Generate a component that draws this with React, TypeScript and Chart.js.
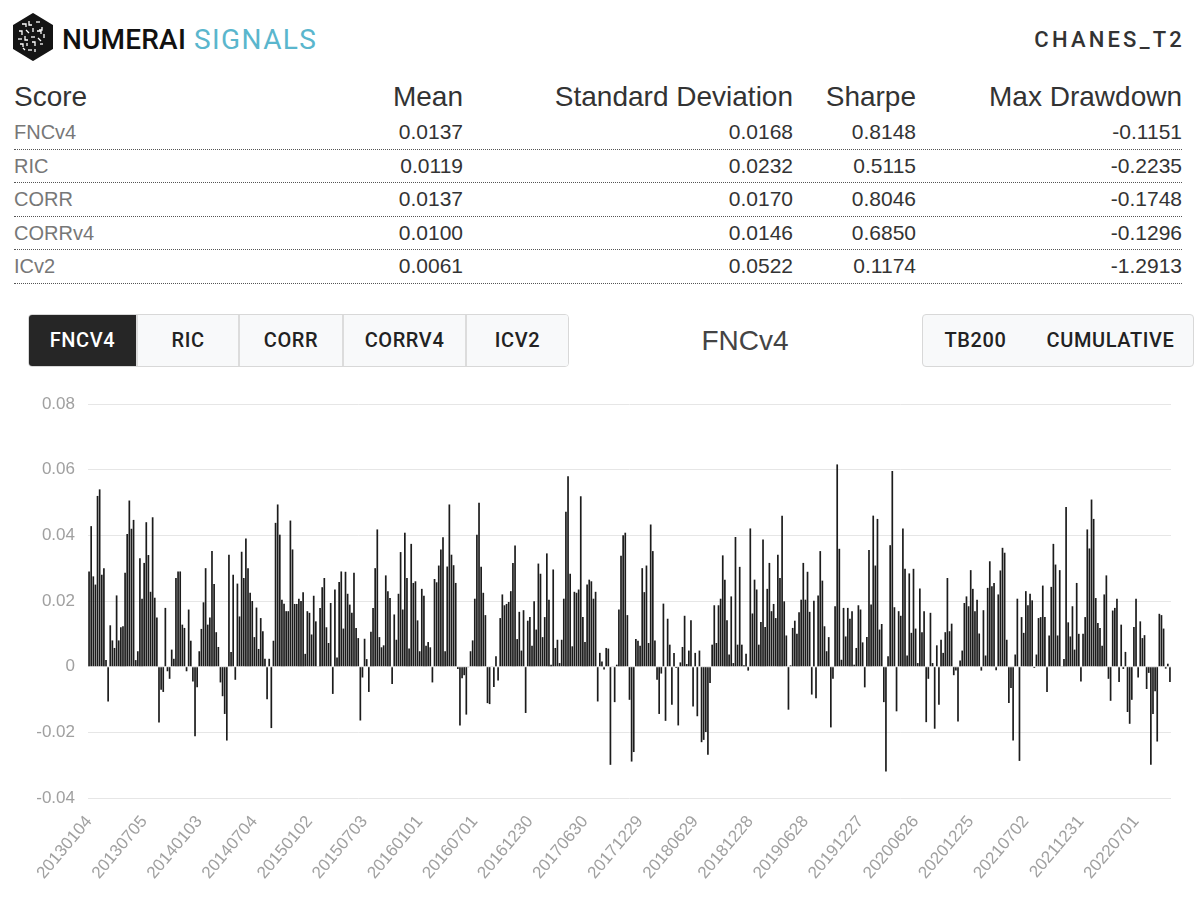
import React, { useEffect, useRef } from 'react';
import { Chart, registerables } from 'chart.js';

Chart.register(...registerables);

// ---------- table data ----------
const SCORE_NAMES = ['FNCv4', 'RIC', 'CORR', 'CORRv4', 'ICv2'];
const MEAN = ['0.0137', '0.0119', '0.0137', '0.0100', '0.0061'];
const STD_DEV = ['0.0168', '0.0232', '0.0170', '0.0146', '0.0522'];
const SHARPE = ['0.8148', '0.5115', '0.8046', '0.6850', '0.1174'];
const MAX_DRAWDOWN = ['-0.1151', '-0.2235', '-0.1748', '-0.1296', '-1.2913'];

const TABS = ['FNCV4', 'RIC', 'CORR', 'CORRV4', 'ICV2'];
const MODES = ['TB200', 'CUMULATIVE'];

// ---------- chart data ----------
const TICK_LABELS = [
  '20130104', '20130705', '20140103', '20140704', '20150102', '20150703', '20160101',
  '20160701', '20161230', '20170630', '20171229', '20180629', '20181228', '20190628',
  '20191227', '20200626', '20201225', '20210702', '20211231', '20220701',
];
const TICK_EVERY = 26;
const Y_TICKS = [-0.04, -0.02, 0, 0.02, 0.04, 0.06, 0.08];

const FNC_2013 = [
  0.029, 0.0428, 0.0275, 0.025, 0.052, 0.054, 0.028, 0.030, 0.002, -0.0106, 0.0126, 0.008,
  0.0057, 0.0217, 0.008, 0.012, 0.0123, 0.0286, 0.0404, 0.0506, 0.042, 0.0447, 0.002, 0.0047,
  0.033, 0.0207, 0.0316, 0.044, 0.034, 0.0228, 0.0455, 0.021, 0.015, -0.017, -0.007, -0.0077,
  0.0179, -0.0014, -0.0037, 0.0052, 0.0024, 0.027, 0.029, 0.029, 0.0128, 0.0118, -0.0014,
  0.0174, 0.0079, -0.0045, -0.0212, -0.0063, 0.0047, 0.0115, 0.0196, 0.030,
];
const FNC_2014 = [
  0.0128, 0.015, 0.0352, 0.0252, 0.0105, 0.006, -0.0048, -0.009, -0.0144, -0.0225, 0.0341,
  0.0045, 0.028, -0.004, 0.0253, 0.0153, 0.035, 0.027, 0.039, 0.030, 0.0225, 0.020, 0.009,
  0.018, 0.0054, 0.0148, 0.0108, 0.0024, -0.0099, 0.0024, -0.0187, 0.0079, 0.0438, 0.0494,
  0.0402, 0.0204, 0.0192, 0.0169, 0.0169, 0.0445, 0.0357, 0.0191, 0.0191, 0.0207, 0.020,
  0.0227, 0.0039, 0.0169, 0.0164, 0.0098, 0.0216, 0.0138, 0.0001, 0.0179, 0.0242, 0.027, 0.012,
];
const FNC_2015 = [
  0.0072, 0.0194, -0.0083, 0.0235, 0.0028, 0.0258, 0.029, 0.0116, 0.0289, 0.0222, 0.0189,
  0.0164, 0.0286, 0.0118, 0.0087, -0.0164, -0.0033, 0.0085, 0.0023, -0.0077, 0.0106, 0.0179,
  0.030, 0.0418, 0.009, 0.0059, 0.0065, 0.0278, 0.023, 0.0209, -0.0053, 0.0159, 0.0082, 0.0222,
  0.0349, 0.0174, 0.0408, 0.027, 0.0055, 0.0374, 0.0255, 0.026, 0.0141, 0.0047, 0.0237, 0.0216,
  0.0064, 0.0075, 0.0059, -0.0048, 0.0267, 0.0257, 0.0308, 0.0357, 0.0394, 0.0047, 0.0305, 0.0494,
];
const FNC_2016 = [
  0.0341, 0.0309, 0.0255, -0.0007, -0.0179, -0.0035, -0.0026, -0.0146, -0.0001, 0.0047, 0.008,
  0.0207, 0.0402, 0.0499, 0.0304, 0.0225, 0.0157, -0.0111, -0.0114, 0, -0.0062, 0.0032, -0.0042,
  0.0148, 0.022, 0.0187, 0.0191, 0.0197, 0.023, 0.0316, 0.0369, 0.0084, 0.0167, 0.0049, 0.0172,
  -0.0141, 0.014, 0.0151, 0.0064, 0.0199, 0.0113, 0.0314, 0.0283, 0.009, 0.0151, 0.0345, 0.0204,
  0.0006, 0.0296, 0.0057, 0.0082, 0.0011, 0.0082, 0.0207, 0.0472, 0.058, 0.0283,
];
const FNC_2017 = [
  0.0062, 0.0228, 0.0225, 0.0235, 0.0519, 0.0151, 0.0075, 0.025, 0.0265, 0.026, 0.0207, 0.0228,
  -0.0106, 0.0042, 0.0016, -0.0009, 0.0057, 0.0055, -0.0299, 0, -0.0108, 0.0006, 0.0174, 0.0338,
  0.04, 0.0408, 0.0157, -0.0101, -0.0289, -0.026, 0.0084, 0.0079, 0.0064, 0.030, 0.0227, 0.0308,
  0.0072, 0.0433, 0.0352, 0.008, -0.004, -0.0144, -0.0021, 0.0192, -0.0165, 0.0146, 0.0067,
  -0.0116, 0.0042, -0.0004, -0.0179, 0.0013, 0.006, 0.0155, 0.0008, 0.0049, 0.0141, -0.0121,
];
const FNC_2018 = [
  0.0042, -0.0151, 0.0049, -0.023, -0.0223, -0.0199, -0.0268, -0.005, 0.0067, 0.0187, 0.0072,
  0.0187, 0.0207, 0.0339, 0.0265, 0.0141, 0.0037, 0.0214, 0.0011, 0.0395, 0.0067, 0.0304, 0.0067,
  0.0004, 0.0039, -0.0012, 0.0421, 0.0162, 0.0265, 0.0235, 0.0067, 0.0136, 0.0387, 0.0121, 0.0237,
  0.0316, 0.0169, 0.0191, 0.0148, 0.0341, 0.027, 0.046, 0.0199, 0.0095, -0.0131, 0.0004, 0.0118,
  0.014, 0.01, 0.0166, 0.0204, 0.0316, 0.0204, 0.0289, 0.0167, -0.0085, 0.0201,
];
const FNC_2019 = [
  -0.0096, 0.0217, 0.0352, 0.0262, 0.0123, 0.0047, 0.009, -0.0185, -0.0037, 0.0184, 0.0616,
  0.0359, 0.0021, 0.0179, 0.0092, 0.0179, 0.0146, 0.0169, 0.0006, 0.0057, 0.0187, 0.0174, 0.0074,
  -0.0063, 0.009, 0.0355, 0.0189, 0.046, 0.0308, 0.045, 0.0113, 0.013, -0.0108, -0.0319, 0.0032,
  0.037, 0.0596, 0.0181, -0.0136, 0.0169, 0.0155, 0.0421, 0.0298, 0.0034, 0.0284, 0.0103, 0.0298,
  0.0116, 0.0011, 0.0238, 0.0105, 0.0169, -0.0169, -0.0037, 0.0164, 0.0011, -0.0189,
];
const FNC_2021 = [
  0.0065, -0.0116, 0.0082, 0.0042, 0.0105, 0.027, 0.0108, 0.0131, -0.0026, -0.0012, -0.0167,
  0.0019, 0.0049, 0.0194, 0.0214, 0.0184, 0.0294, 0.0237, 0.0169, 0.0204, 0.0101, -0.0012, 0.0172,
  0.0034, 0.024, 0.0321, 0.0245, 0.0255, -0.0011, 0.022, 0.0293, 0.0362, 0.0347, 0.0082, -0.0111,
  -0.0065, -0.0225, 0.0037, 0.0207, -0.0287, 0.0151, 0.0103, 0.023, 0.0187, 0.0222, 0.0202,
  -0.0004, 0.0037, 0.0148, 0.0151, 0.0247, 0.0151, -0.0077, 0.0095, 0.0243, 0.0374, 0.0311,
];
const FNC_2022 = [
  0.0095, 0.0294, -0.0002, 0.0023, 0.0486, 0.0135, 0.0092, 0.0184, 0.0052, 0.0255, 0.01, -0.0045,
  0.01, 0.0151, 0.0418, 0.036, 0.0509, 0.045, 0.0209, 0.0133, 0.0118, 0.0064, 0.022, 0.0278,
  -0.0037, -0.0104, 0.0171, 0.0179, 0.0207, -0.0047, 0.0128, -0.0007, 0.0045, -0.0138, -0.0174,
  -0.0101, 0.0121, 0.0207, -0.0033, 0.0138, 0.0087, 0.0096, -0.0068, -0.0019, -0.0299, -0.0144,
  -0.0075, -0.0228, 0.0161, 0.0157, 0.0116, -0.0006, 0.0009, -0.0047,
];

const FNC_VALUES = [
  ...FNC_2013, ...FNC_2014, ...FNC_2015, ...FNC_2016, ...FNC_2017,
  ...FNC_2018, ...FNC_2019, ...FNC_2021, ...FNC_2022,
];

const FONT = '"Liberation Sans", Arial, Helvetica, sans-serif';
const TECH_FONT = 'Roboto, "Liberation Sans", Arial, sans-serif';

const LOGO_MARKS = [
  'M22 24h4v3', 'M29 21v4h3', 'M36 22h4', 'M42 27v3h-3', 'M19 31h3v4', 'M26 30l3 3', 'M33 28v4',
  'M37 31h4v3', 'M44 34v4', 'M18 39h4', 'M25 36v4h3', 'M31 37h4', 'M38 38l3 3', 'M20 44h3v3',
  'M27 43v3', 'M32 42h3v4', 'M40 44h3', 'M28 50h4', 'M35 49v3', 'M23 48l2 2',
];

function Logo() {
  return (
    <svg width={42} height={50} viewBox="12 12 42 50" style={{ position: 'absolute', left: 12, top: 12 }}>
      <polygon
        points="33,14 52,25.5 52,48.5 33,60 14,48.5 14,25.5"
        fill="#141414"
        stroke="#141414"
        strokeWidth={2}
        strokeLinejoin="round"
      />
      {LOGO_MARKS.map((d, i) => (
        <path key={i} d={d} stroke="#fff" strokeWidth={1.3} fill="none" />
      ))}
    </svg>
  );
}

function BarChart() {
  const ref = useRef<HTMLCanvasElement | null>(null);
  useEffect(() => {
    if (!ref.current) return;
    const labels = FNC_VALUES.map((_, i) =>
      i % TICK_EVERY === 0 ? TICK_LABELS[i / TICK_EVERY] ?? '' : ''
    );
    const chart = new Chart(ref.current, {
      type: 'bar',
      data: {
        labels,
        datasets: [
          {
            data: FNC_VALUES,
            backgroundColor: '#1c1c1c',
            barPercentage: 0.8,
            categoryPercentage: 1,
          },
        ],
      },
      options: {
        animation: false,
        responsive: true,
        maintainAspectRatio: false,
        layout: { padding: { left: 0, right: 29, top: 24, bottom: 0 } },
        plugins: { legend: { display: false }, tooltip: { enabled: false } },
        scales: {
          x: {
            grid: { display: false },
            border: { display: false },
            ticks: {
              autoSkip: false,
              minRotation: 50,
              maxRotation: 50,
              color: '#a0a0a0',
              padding: 6,
              font: { size: 17, family: FONT },
            },
            afterFit: (s: any) => {
              s.height = 100;
            },
          },
          y: {
            min: -0.04,
            max: 0.08,
            afterBuildTicks: (s: any) => {
              s.ticks = Y_TICKS.map((v) => ({ value: v }));
            },
            ticks: {
              color: '#a0a0a0',
              padding: 13,
              font: { size: 17, family: FONT },
              callback: (v: any) => String(Number(Number(v).toFixed(2))),
            },
            grid: { color: '#e6e6e6', drawTicks: false, lineWidth: 1 },
            border: { display: false },
            afterFit: (s: any) => {
              s.width = 88;
            },
          },
        },
      },
    });
    return () => chart.destroy();
  }, []);
  return (
    <div style={{ position: 'absolute', left: 0, top: 380, width: 1200, height: 518 }}>
      <canvas ref={ref} />
    </div>
  );
}

const COLS = [
  { title: 'Mean', right: 463, values: MEAN },
  { title: 'Standard Deviation', right: 793, values: STD_DEV },
  { title: 'Sharpe', right: 916, values: SHARPE },
  { title: 'Max Drawdown', right: 1182, values: MAX_DRAWDOWN },
];

const TAB_WIDTHS = [107, 102, 104, 123, 103];

export default function App() {
  return (
    <div
      style={{
        position: 'absolute',
        left: 0,
        top: 0,
        width: 1200,
        height: 898,
        background: '#fff',
        fontFamily: FONT,
        overflow: 'hidden',
      }}
    >
      <Logo />
      <div
        style={{
          position: 'absolute',
          left: 62,
          top: 22,
          height: 36,
          lineHeight: '36px',
          fontFamily: TECH_FONT,
          fontSize: 28,
          whiteSpace: 'nowrap',
        }}
      >
        <span style={{ color: '#111', fontWeight: 500, letterSpacing: 0.2 }}>NUMERAI</span>
        <span style={{ color: '#5ab6cd', fontWeight: 400, marginLeft: 8, letterSpacing: 1.4 }}>SIGNALS</span>
      </div>
      <div
        style={{
          position: 'absolute',
          right: 15,
          top: 24,
          height: 32,
          lineHeight: '32px',
          fontFamily: TECH_FONT,
          fontSize: 22,
          fontWeight: 500,
          letterSpacing: 3.2,
          color: '#333',
          whiteSpace: 'nowrap',
        }}
      >
        CHANES_T2
      </div>

      {/* table header */}
      <div style={{ position: 'absolute', left: 14, top: 80, height: 34, lineHeight: '34px', fontSize: 28, color: '#333' }}>
        Score
      </div>
      {COLS.map((c) => (
        <div
          key={c.title}
          style={{
            position: 'absolute',
            right: 1200 - c.right,
            top: 80,
            height: 34,
            lineHeight: '34px',
            fontSize: 28,
            color: '#333',
            whiteSpace: 'nowrap',
          }}
        >
          {c.title}
        </div>
      ))}
      {SCORE_NAMES.map((name, i) => (
        <div
          key={name}
          style={{
            position: 'absolute',
            left: 14,
            width: 1168,
            top: 116 + i * 33.5,
            height: 33.5,
            boxSizing: 'border-box',
            borderBottom: '1px dotted #555',
          }}
        >
          <div style={{ position: 'absolute', left: 0, top: 0, lineHeight: '32px', fontSize: 20, color: '#777' }}>{name}</div>
          {COLS.map((c) => (
            <div
              key={c.title}
              style={{
                position: 'absolute',
                right: 1182 - c.right,
                top: 0,
                lineHeight: '32px',
                fontSize: 21,
                color: '#333',
              }}
            >
              {c.values[i]}
            </div>
          ))}
        </div>
      ))}

      {/* tabs */}
      <div
        style={{
          position: 'absolute',
          left: 28,
          top: 314,
          height: 53,
          display: 'flex',
          border: '1px solid #d8d8d8',
          borderRadius: 4,
          overflow: 'hidden',
          boxSizing: 'border-box',
        }}
      >
        {TABS.map((t, i) => (
          <div
            key={t}
            style={{
              width: TAB_WIDTHS[i],
              height: 51,
              lineHeight: '51px',
              textAlign: 'center',
              fontFamily: TECH_FONT,
              fontWeight: 500,
              fontSize: 20,
              letterSpacing: 0.6,
              background: i === 0 ? '#262626' : '#f8f9fa',
              color: i === 0 ? '#fff' : '#222',
              borderLeft: i === 0 ? 'none' : '2px solid #dcdcdc',
              boxSizing: 'border-box',
            }}
          >
            {t}
          </div>
        ))}
      </div>
      <div
        style={{
          position: 'absolute',
          left: 645,
          width: 200,
          top: 322,
          height: 38,
          lineHeight: '38px',
          textAlign: 'center',
          fontSize: 28,
          color: '#444',
        }}
      >
        FNCv4
      </div>
      <div
        style={{
          position: 'absolute',
          left: 922,
          top: 314,
          width: 272,
          height: 53,
          display: 'flex',
          border: '1px solid #d8d8d8',
          borderRadius: 4,
          background: '#f8f9fa',
          boxSizing: 'border-box',
        }}
      >
        {MODES.map((m, i) => (
          <div
            key={m}
            style={{
              width: i === 0 ? 105 : 165,
              height: 51,
              lineHeight: '51px',
              textAlign: 'center',
              fontFamily: TECH_FONT,
              fontWeight: 500,
              fontSize: 20,
              letterSpacing: 0.6,
              color: '#222',
            }}
          >
            {m}
          </div>
        ))}
      </div>

      <BarChart />
    </div>
  );
}
